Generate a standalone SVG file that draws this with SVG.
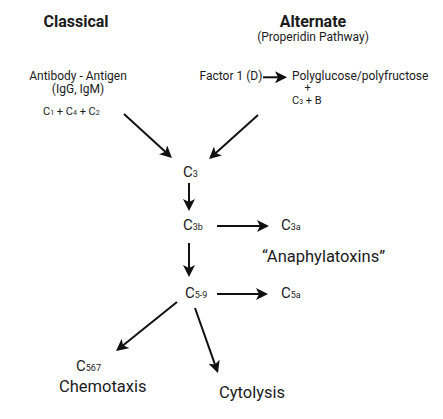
<svg xmlns="http://www.w3.org/2000/svg" width="443" height="419" viewBox="0 0 443 419">
<style>
text{font-family:Roboto,"Liberation Sans",sans-serif;fill:#1b1b1b}
.h{font-weight:bold;font-size:16px;text-anchor:middle}
.s{font-size:12px}
.m{font-size:15px}
.l{font-size:16.5px}
.sub{font-size:9px}
.ssub{font-size:7px}
.c{stroke:#111;stroke-width:2;fill:none;marker-end:url(#ah)}
</style>
<defs>
<marker id="ah" viewBox="0 0 12 12" markerWidth="12" markerHeight="12" markerUnits="userSpaceOnUse" refX="10" refY="6" orient="auto">
<path d="M0,0 L12,6 L0,12 L3,6 Z" fill="#111"/>
</marker>
</defs>
<rect width="443" height="419" fill="#fff"/>
<g id="classical"><text class="h" x="76" y="27">Classical</text></g>
<g id="alternate"><text class="h" x="313" y="27">Alternate</text>
<text class="s" x="313" y="41" text-anchor="middle">(Properidin Pathway)</text></g>
<g id="antibody"><text class="s" x="78" y="80" text-anchor="middle">Antibody - Antigen</text>
<text class="s" x="78" y="93" text-anchor="middle">(IgG, IgM)</text>
<text x="43" y="115" style="font-size:11px">C<tspan class="ssub">1</tspan> + C<tspan class="ssub">4</tspan> + C<tspan class="ssub">2</tspan></text></g>
<g id="factor"><text class="s" x="199.5" y="80">Factor 1 (D)</text></g>
<g id="poly"><text class="s" x="292" y="80">Polyglucose/polyfructose</text>
<text x="307.5" y="91" style="font-size:11px" text-anchor="middle">+</text>
<text x="292" y="104" style="font-size:11px">C<tspan class="ssub">3</tspan> + B</text></g>
<g id="c3"><text class="m" x="183" y="177">C<tspan class="sub">3</tspan></text></g>
<g id="c3b"><text class="m" x="183" y="230">C<tspan class="sub">3b</tspan></text></g>
<g id="c3a"><text class="m" x="281" y="230">C<tspan class="sub">3a</tspan></text></g>
<g id="anaphylatoxins"><text class="l" x="262" y="262">“Anaphylatoxins”</text></g>
<g id="c59"><text class="m" x="185" y="298">C<tspan class="sub">5-9</tspan></text></g>
<g id="c5a"><text class="m" x="281" y="298">C<tspan class="sub">5a</tspan></text></g>
<g id="c567"><text class="m" x="76" y="371">C<tspan class="sub">567</tspan></text>
<text class="l" x="59" y="392">Chemotaxis</text></g>
<g id="cytolysis"><text class="l" x="219" y="398">Cytolysis</text></g>
<g id="connectors">
<line class="c" x1="263" y1="77.3" x2="285" y2="77.3"/>
<line class="c" x1="124" y1="114" x2="170.5" y2="156.6"/>
<line class="c" x1="258" y1="115" x2="210.5" y2="157.7"/>
<line class="c" x1="189" y1="183" x2="189" y2="209"/>
<line class="c" x1="217" y1="226" x2="267" y2="226"/>
<line class="c" x1="189" y1="243" x2="189" y2="275"/>
<line class="c" x1="217" y1="294" x2="266" y2="294"/>
<line class="c" x1="177" y1="302" x2="117.6" y2="349.7"/>
<line class="c" x1="195" y1="308" x2="217.3" y2="371.1"/>
</g>
</svg>
